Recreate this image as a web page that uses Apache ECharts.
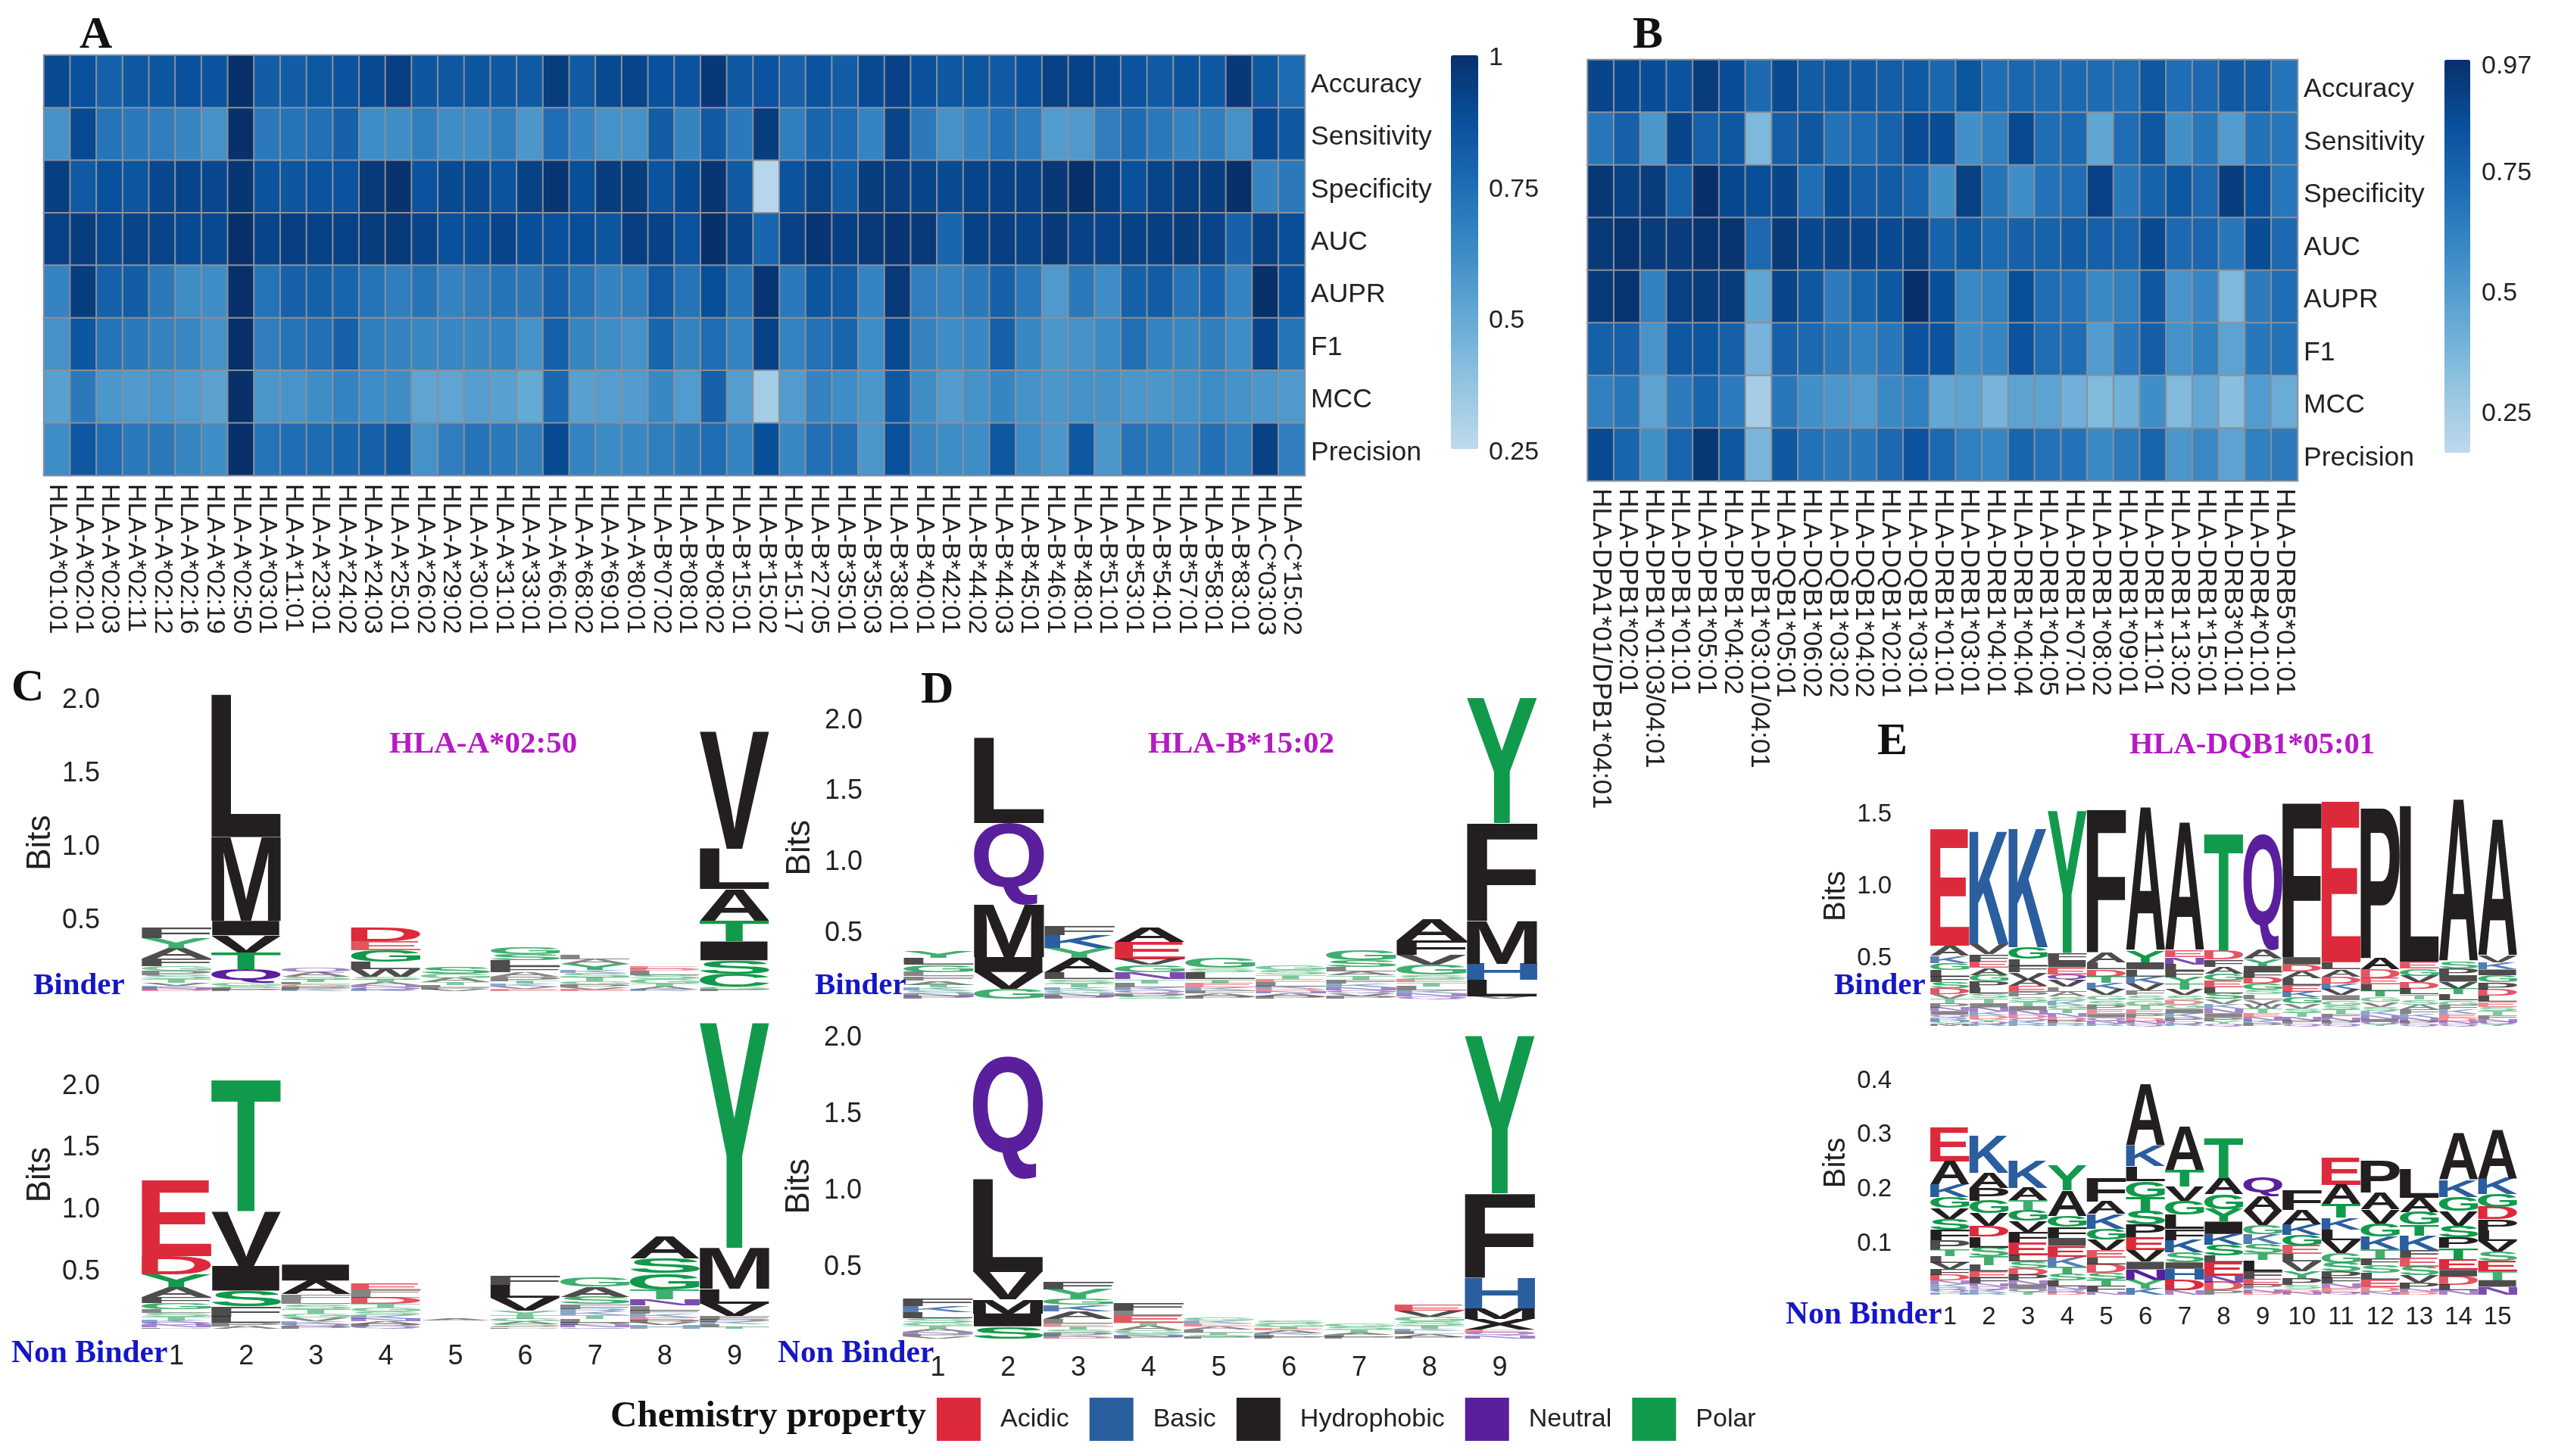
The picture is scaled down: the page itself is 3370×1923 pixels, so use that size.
<!DOCTYPE html>
<html><head><meta charset="utf-8">
<script src="https://cdn.jsdelivr.net/npm/echarts@6/dist/echarts.min.js"></script>
<style>html,body{margin:0;padding:0;background:#fff}#c{width:3370px;height:1923px}</style>
</head><body><div id="c"></div>
<script>
const metrics=["Accuracy","Sensitivity","Specificity","AUC","AUPR","F1","MCC","Precision"];
const allelesA=["HLA-A*01:01","HLA-A*02:01","HLA-A*02:03","HLA-A*02:11","HLA-A*02:12","HLA-A*02:16","HLA-A*02:19","HLA-A*02:50","HLA-A*03:01","HLA-A*11:01","HLA-A*23:01","HLA-A*24:02","HLA-A*24:03","HLA-A*25:01","HLA-A*26:02","HLA-A*29:02","HLA-A*30:01","HLA-A*31:01","HLA-A*33:01","HLA-A*66:01","HLA-A*68:02","HLA-A*69:01","HLA-A*80:01","HLA-B*07:02","HLA-B*08:01","HLA-B*08:02","HLA-B*15:01","HLA-B*15:02","HLA-B*15:17","HLA-B*27:05","HLA-B*35:01","HLA-B*35:03","HLA-B*38:01","HLA-B*40:01","HLA-B*42:01","HLA-B*44:02","HLA-B*44:03","HLA-B*45:01","HLA-B*46:01","HLA-B*48:01","HLA-B*51:01","HLA-B*53:01","HLA-B*54:01","HLA-B*57:01","HLA-B*58:01","HLA-B*83:01","HLA-C*03:03","HLA-C*15:02"];
const allelesB=["HLA-DPA1*01/DPB1*04:01","HLA-DPB1*02:01","HLA-DPB1*01:03/04:01","HLA-DPB1*01:01","HLA-DPB1*05:01","HLA-DPB1*04:02","HLA-DPB1*03:01/04:01","HLA-DQB1*05:01","HLA-DQB1*06:02","HLA-DQB1*03:02","HLA-DQB1*04:02","HLA-DQB1*02:01","HLA-DQB1*03:01","HLA-DRB1*01:01","HLA-DRB1*03:01","HLA-DRB1*04:01","HLA-DRB1*04:04","HLA-DRB1*04:05","HLA-DRB1*07:01","HLA-DRB1*08:02","HLA-DRB1*09:01","HLA-DRB1*11:01","HLA-DRB1*13:02","HLA-DRB1*15:01","HLA-DRB3*01:01","HLA-DRB4*01:01","HLA-DRB5*01:01"];

const aAccuracy=[.9,.87,.8,.84,.85,.87,.86,1,.82,.82,.84,.86,.9,.94,.85,.84,.85,.84,.83,.95,.83,.9,.92,.87,.86,.97,.84,.86,.8,.86,.82,.9,.93,.87,.84,.85,.83,.87,.93,.93,.9,.86,.83,.86,.84,.97,.84,.76];
const aSensitivity=[.6,.9,.72,.7,.68,.65,.6,1,.7,.72,.74,.8,.62,.62,.68,.62,.62,.68,.58,.75,.66,.6,.6,.82,.66,.83,.7,.95,.68,.78,.76,.66,.92,.7,.6,.66,.73,.69,.56,.57,.68,.76,.7,.66,.68,.6,.9,.84];
const aSpecificity=[.94,.83,.87,.85,.91,.92,.91,.98,.86,.85,.86,.86,.96,.99,.86,.9,.9,.86,.93,.98,.88,.95,.95,.86,.9,.98,.83,.27,.86,.92,.82,.95,.94,.92,.9,.92,.93,.93,.97,1,.94,.87,.92,.94,.95,1,.66,.7];
const aAUC=[.93,.95,.9,.92,.92,.9,.9,1,.92,.94,.93,.93,.95,.96,.92,.87,.88,.92,.88,.87,.88,.85,.94,.93,.86,1,.92,.78,.93,.98,.94,.96,.98,.96,.78,.93,.94,.92,.96,.93,.92,.93,.94,.95,.92,.8,.93,.88];
const aAUPR=[.66,.95,.8,.82,.7,.62,.62,1,.72,.8,.8,.78,.72,.68,.72,.66,.68,.72,.7,.8,.72,.66,.68,.83,.72,.88,.72,.98,.7,.85,.82,.66,.96,.68,.66,.7,.8,.7,.57,.7,.62,.8,.82,.72,.78,.66,1,.88];
const aF1=[.6,.85,.72,.7,.66,.64,.6,1,.68,.72,.74,.8,.68,.66,.64,.64,.64,.66,.6,.8,.65,.62,.6,.78,.66,.75,.66,.93,.66,.73,.78,.62,.9,.66,.62,.64,.8,.64,.58,.6,.63,.74,.66,.64,.68,.62,.92,.72];
const aMCC=[.54,.7,.58,.57,.58,.56,.53,1,.58,.59,.62,.66,.62,.62,.52,.52,.55,.54,.5,.77,.54,.55,.56,.64,.56,.8,.55,.33,.56,.66,.62,.58,.84,.62,.56,.6,.65,.6,.58,.6,.6,.58,.58,.6,.62,.6,.58,.57];
const aPrecision=[.62,.84,.75,.7,.7,.65,.62,1,.72,.75,.76,.78,.8,.84,.6,.68,.72,.7,.68,.9,.66,.63,.64,.68,.7,.75,.66,.88,.64,.74,.74,.58,.87,.64,.62,.62,.84,.62,.58,.84,.58,.72,.7,.66,.74,.68,.93,.68];

const bAccuracy=[.88,.87,.85,.82,.92,.85,.72,.86,.78,.79,.79,.77,.79,.73,.81,.7,.73,.71,.72,.71,.7,.8,.7,.72,.79,.78,.67];
const bSensitivity=[.66,.76,.52,.88,.76,.8,.36,.77,.8,.68,.71,.75,.85,.85,.55,.62,.86,.7,.72,.45,.7,.8,.55,.66,.5,.68,.66];
const bSpecificity=[.94,.9,.92,.76,.97,.87,.84,.88,.7,.85,.77,.78,.74,.55,.9,.67,.56,.68,.7,.9,.66,.75,.8,.72,.91,.83,.66];
const bAUC=[.93,.95,.92,.92,.95,.95,.72,.93,.87,.88,.88,.86,.9,.75,.8,.72,.76,.75,.78,.76,.74,.86,.72,.73,.66,.85,.72];
const bAUPR=[.93,.95,.62,.9,.92,.92,.45,.88,.8,.64,.74,.8,.97,.84,.58,.62,.84,.7,.68,.58,.62,.8,.53,.6,.36,.64,.7];
const bF1=[.76,.76,.53,.8,.81,.76,.38,.76,.72,.66,.62,.66,.82,.82,.56,.6,.82,.7,.7,.5,.66,.77,.54,.62,.46,.66,.68];
const bMCC=[.62,.66,.46,.64,.74,.64,.24,.66,.55,.52,.5,.58,.62,.44,.46,.38,.46,.46,.4,.35,.4,.56,.35,.44,.33,.5,.42];
const bPrecision=[.86,.74,.55,.74,.94,.8,.37,.8,.68,.65,.66,.72,.82,.72,.62,.6,.74,.68,.68,.58,.64,.74,.52,.58,.46,.62,.64];

const colorbarTicksA=[.25,.5,.75,1];
const colorbarTicksB=[.25,.5,.75,.97];
const blues=["#bfd9ed","#93c4e0","#65a9d5","#3d8cc6","#1f6db4","#08509b","#08306b"];

const positions9=["1","2","3","4","5","6","7","8","9"];
const positions15=["1","2","3","4","5","6","7","8","9","10","11","12","13","14","15"];
const ticksBits=[.5,1,1.5,2];
const ticksE1=[.5,1,1.5];
const ticksE2=[.1,.2,.3,.4];

// Each string: one logo column, letters listed top to bottom as letter:bits ("_" leaves a gap)
const logoCBinder=[
"F:.07 Y:.07 A:.07 F:.05 G:.03 P:.03 S:.03 T:.025 V:.02 K:.015 N:.01 D:.01",
"L:.97 M:.57 I:.1 V:.12 T:.11 Q:.095 G:.02 S:.015 L:.01 P:.01",
"Q:.03 A:.03 S:.02 T:.02 L:.015 G:.015 E:.01 P:.01 K:.01",
"D:.09 E:.06 G:.08 L:.05 W:.05 S:.02 T:.02 A:.02 N:.015 Q:.015 K:.01",
"S:.05 G:.03 A:.03 T:.02 L:.015 P:.015 V:.01",
"G:.05 S:.04 L:.04 F:.04 A:.03 P:.03 T:.02 K:.02 V:.015 E:.015",
"L:.03 A:.03 Y:.04 K:.02 S:.03 T:.03 G:.02 P:.02 V:.015 E:.01",
"E:.02 D:.01 L:.03 S:.03 G:.03 T:.02 A:.02 K:.01",
"V:.8 L:.275 A:.215 T:.14 I:.13 S:.09 C:.09 G:.02 P:.01"];
const logoCNonBinder=[
"E:.61 D:.15 Y:.1 A:.08 F:.05 G:.05 L:.03 S:.03 T:.03 K:.02 Q:.02 N:.02 P:.01",
"T:1.07 V:.44 I:.2 S:.13 F:.08 L:.05 P:.03 A:.02",
"I:.13 A:.11 F:.04 L:.04 S:.04 T:.04 G:.03 V:.03 K:.02 Q:.02 P:.02",
"E:.05 F:.03 L:.03 D:.05 T:.03 G:.03 S:.03 K:.03 N:.02 A:.02 P:.02 Q:.02",
"A:.012 _:.07",
"F:.08 L:.1 V:.1 Y:.04 T:.03 G:.02 A:.02 S:.02 E:.01 P:.01",
"G:.07 A:.08 S:.06 F:.04 R:.02 K:.03 T:.03 L:.03 P:.02 N:.02 Q:.01",
"A:.18 S:.12 G:.13 T:.08 N:.05 L:.04 F:.03 K:.03 E:.02 P:.02 V:.02 H:.03",
"Y:1.82 M:.33 L:.12 V:.1 F:.03 P:.02 K:.02 L:.02 T:.015"];
const logoDBinder=[
"Y:.05 L:.05 G:.05 L:.03 F:.03 A:.03 T:.02 K:.02 S:.02 N:.02 P:.02",
"L:.6 Q:.575 M:.37 I:.107 V:.12 G:.07",
"F:.06 K:.09 Y:.07 A:.1 L:.05 S:.03 T:.03 K:.02 G:.02 N:.02 P:.02",
"A:.1 E:.12 V:.04 G:.05 N:.05 T:.03 L:.03 K:.02 Q:.02 P:.02 S:.02",
"G:.07 S:.03 L:.05 T:.03 E:.03 K:.02 F:.02 A:.02 P:.02",
"G:.035 S:.035 T:.03 E:.02 L:.03 K:.02 D:.015 N:.015 A:.02 P:.02",
"G:.07 S:.05 L:.03 A:.03 T:.03 F:.025 K:.03 N:.02 Q:.02 V:.02 P:.02",
"A:.15 F:.1 V:.07 G:.07 S:.03 E:.02 T:.03 L:.03 K:.02 N:.02 Q:.02",
"Y:.88 F:.69 M:.3 H:.115 L:.115 V:.02"];
const logoDNonBinder=[
"F:.05 K:.04 L:.04 S:.03 G:.02 T:.02 A:.02 N:.015 P:.015 V:.015",
"Q:.8 L:.61 V:.18 M:.09 I:.085 S:.08",
"F:.05 Y:.06 G:.04 K:.04 A:.05 L:.03 E:.02 T:.02 S:.02 P:.02 K:.01 D:.01",
"F:.05 L:.03 E:.05 T:.02 A:.03 G:.02 S:.015 N:.01 P:.01",
"G:.02 K:.02 E:.02 A:.02 L:.02 T:.015 S:.015 P:.01",
"S:.02 G:.02 T:.015 E:.01 A:.02 K:.01 L:.015 P:.01",
"G:.02 S:.02 T:.02 A:.015 L:.015 P:.01",
"E:.04 V:.04 G:.03 S:.03 T:.02 K:.015 L:.02 A:.02 P:.01",
"Y:1.03 F:.55 H:.2 M:.07 X:.07 E:.02 Q:.02 N:.02"];
const logoEBinder=[
"E:.81 A:.07 K:.05 G:.05 L:.045 F:.04 S:.04 D:.04 V:.035 T:.03 P:.03 N:.025 I:.025 Q:.02 R:.02 H:.015 Y:.015 M:.01",
"K:.79 V:.07 F:.05 E:.045 A:.05 G:.045 P:.04 L:.04 S:.035 T:.035 I:.03 N:.03 K:.025 D:.025 Y:.02 Q:.015 R:.015",
"K:.83 G:.08 L:.05 F:.045 V:.05 A:.045 E:.04 P:.035 S:.035 T:.03 I:.03 N:.03 D:.025 Q:.02 K:.02 R:.015",
"Y:.99 F:.05 I:.05 E:.05 Q:.04 V:.045 L:.035 A:.035 S:.03 K:.03 G:.03 T:.025 N:.025 D:.025 P:.02 R:.02",
"F:1 A:.07 L:.05 D:.05 T:.045 K:.045 V:.04 G:.035 S:.035 P:.03 E:.03 I:.025 Q:.025 N:.02 R:.015",
"A:1 Y:.08 I:.05 L:.05 K:.05 V:.045 F:.035 S:.035 G:.035 T:.03 E:.03 P:.025 D:.025 N:.02 Q:.015",
"A:.89 E:.05 N:.05 L:.045 F:.045 Y:.045 T:.04 V:.04 S:.035 D:.03 G:.03 I:.03 K:.03 P:.025 Q:.02 R:.015",
"T:.815 D:.06 F:.05 A:.05 G:.05 E:.045 L:.04 S:.04 V:.035 K:.035 N:.03 I:.03 P:.025 Y:.02 Q:.015",
"Q:.81 A:.06 Y:.05 I:.04 F:.04 D:.045 G:.04 S:.035 L:.035 V:.035 W:.03 T:.03 E:.025 N:.025 K:.02 P:.02",
"F:1.08 I:.05 D:.05 A:.045 L:.05 E:.045 K:.04 G:.04 V:.035 S:.03 T:.03 N:.025 P:.025 Q:.015",
"E:1.12 L:.05 A:.05 D:.05 K:.04 V:.04 I:.035 G:.035 S:.03 T:.03 F:.025 N:.025 P:.02 Q:.015",
"P:1.05 A:.08 D:.06 E:.045 L:.045 T:.04 G:.035 V:.035 S:.03 K:.03 N:.025 I:.02 Q:.015 Y:.015",
"L:1.085 E:.05 G:.05 V:.045 D:.045 L:.04 T:.035 S:.035 A:.035 F:.03 K:.025 N:.025 P:.02 Q:.015",
"A:1.13 S:.05 P:.045 I:.045 V:.05 T:.04 L:.04 G:.035 F:.03 K:.03 E:.025 D:.025 N:.02 Q:.015",
"A:.95 V:.045 K:.05 I:.04 G:.05 P:.05 D:.045 L:.04 E:.035 S:.03 T:.03 F:.025 N:.02 Q:.015 Y:.015"];
const logoENonBinder=[
"E:.063 A:.043 K:.023 G:.02 V:.02 S:.02 F:.02 P:.017 T:.012 L:.012 V:.012 F:.01 D:.01 N:.007 K:.006 R:.005 Q:.005 H:.004",
"K:.068 A:.029 P:.023 G:.023 V:.023 D:.02 L:.02 S:.016 T:.016 L:.012 E:.012 F:.01 N:.006 Q:.006 K:.005 R:.004",
"K:.05 A:.023 T:.018 G:.02 V:.02 F:.02 E:.023 L:.012 S:.012 D:.012 P:.01 N:.008 I:.008 Q:.006 T:.005",
"Y:.047 A:.047 G:.02 F:.02 I:.015 E:.02 K:.018 T:.014 S:.012 L:.01 N:.006 R:.005 D:.005",
"F:.043 A:.023 K:.027 G:.02 V:.02 E:.014 L:.012 D:.016 S:.012 T:.012 F:.01 N:.006",
"A:.113 K:.037 L:.027 G:.03 T:.026 S:.025 P:.023 E:.023 V:.022 I:.014 N:.02 Y:.015 K:.012",
"A:.08 T:.03 V:.026 G:.025 L:.027 F:.02 K:.023 S:.018 I:.012 H:.02 D:.02 N:.008",
"T:.074 A:.03 G:.027 Y:.023 I:.023 K:.02 S:.02 L:.012 E:.025 N:.012 D:.015 P:.008",
"Q:.034 A:.027 V:.027 G:.017 K:.018 S:.017 T:.012 L:.02 F:.015 E:.01 P:.008 N:.006 D:.005",
"F:.035 A:.027 K:.02 G:.02 E:.015 L:.014 V:.018 Y:.012 P:.012 S:.008 D:.006 N:.005",
"E:.05 A:.035 T:.025 K:.022 L:.02 V:.023 G:.018 S:.016 P:.012 F:.01 N:.008 E:.008 Q:.005",
"P:.059 A:.031 V:.027 G:.023 K:.023 T:.018 F:.012 S:.014 L:.012 E:.014 D:.008 N:.006",
"L:.054 A:.027 G:.023 T:.02 K:.027 F:.014 E:.016 S:.016 V:.014 P:.01 N:.006 D:.006",
"A:.087 K:.031 G:.026 V:.027 S:.021 P:.02 T:.02 E:.02 I:.012 D:.016 L:.01 N:.008",
"A:.09 K:.03 G:.023 D:.023 P:.02 L:.02 V:.02 S:.016 E:.02 T:.016 I:.012 N:.015"];

const classes={Acidic:"#dd2a3b",Basic:"#2a5e9f",Hydrophobic:"#231f20",Neutral:"#5a1f9c",Polar:"#119a4b"};
const classOf={D:"Acidic",E:"Acidic",K:"Basic",R:"Basic",H:"Basic",A:"Hydrophobic",V:"Hydrophobic",L:"Hydrophobic",I:"Hydrophobic",P:"Hydrophobic",W:"Hydrophobic",F:"Hydrophobic",M:"Hydrophobic",X:"Hydrophobic",Q:"Neutral",N:"Neutral",G:"Polar",S:"Polar",T:"Polar",C:"Polar",Y:"Polar"};

const SANS='"Liberation Sans"',SERIF='"Liberation Serif"',INK='#222';
const GLYPH_FONT='bold 200px "Liberation Sans"';
const mctx=document.createElement('canvas').getContext('2d');
const glyphCache={};
function glyph(ch){
  if(!glyphCache[ch]){
    mctx.font=GLYPH_FONT;mctx.textBaseline='middle';mctx.textAlign='left';
    const m=mctx.measureText(ch);
    glyphCache[ch]={l:m.actualBoundingBoxLeft,r:m.actualBoundingBoxRight,a:m.actualBoundingBoxAscent,d:m.actualBoundingBoxDescent};
  }
  return glyphCache[ch];
}

const grids=[],xAxes=[],yAxes=[],series=[];
function addHeat(cols,rows,box){
  const gi=grids.length;
  grids.push({left:box.left,top:box.top,width:box.width,height:box.height});
  xAxes.push({type:'category',gridIndex:gi,data:cols,axisLine:{show:false},axisTick:{show:false},splitLine:{show:false},
    axisLabel:{rotate:-90,interval:0,margin:box.margin,fontSize:box.font,fontFamily:SANS,color:INK}});
  yAxes.push({type:'category',gridIndex:gi,data:metrics,inverse:true,position:'right',axisLine:{show:false},axisTick:{show:false},splitLine:{show:false},
    axisLabel:{margin:8,formatter:v=>`{t|${v}}`,rich:{t:{fontSize:35.5,fontFamily:SANS,color:INK,padding:[9,0,0,0],verticalAlign:'bottom'}}}});
  const data=[];
  rows.forEach((r,j)=>r.forEach((v,i)=>data.push([i,j,v])));
  series.push({type:'heatmap',xAxisIndex:gi,yAxisIndex:gi,data,progressive:0,
    itemStyle:{borderColor:'#8a909b',borderWidth:2}});
  return series.length-1;
}
function addColorbarAxis(box,ticks,margin){
  const gi=grids.length;
  grids.push({left:box.left,top:box.top,width:box.width,height:box.height});
  xAxes.push({type:'value',gridIndex:gi,show:false,min:0,max:1});
  yAxes.push({type:'value',gridIndex:gi,position:'right',min:box.min,max:box.max,axisLine:{show:false},axisTick:{show:false},splitLine:{show:false},
    axisLabel:{customValues:ticks,margin,formatter:v=>`{t|${v}}`,rich:{t:{fontSize:34,fontFamily:SANS,color:INK,padding:[5,0,0,0],verticalAlign:'bottom'}}}});
}
function addLogo(stacks,box){
  const gi=grids.length;
  grids.push({left:box.left,width:box.width,top:box.y0-box.max*box.perBit,height:box.max*box.perBit});
  xAxes.push({type:'category',gridIndex:gi,data:stacks.length===9?positions9:positions15,axisLine:{show:false},axisTick:{show:false},splitLine:{show:false},
    axisLabel:{show:!!box.xLabels,interval:0,margin:box.xMargin||10,fontSize:box.font,fontFamily:SANS,color:INK}});
  yAxes.push({type:'value',gridIndex:gi,min:0,max:box.max,axisLine:{show:false},axisTick:{show:false},splitLine:{show:false},
    name:'Bits',nameLocation:'middle',nameRotate:90,nameGap:box.nameGap,nameTextStyle:{fontSize:box.nameFont,fontFamily:SANS,color:INK},
    axisLabel:{customValues:box.ticks,margin:box.margin,formatter:v=>`{t|${v.toFixed(1)}}`,rich:{t:{fontSize:box.font,fontFamily:SANS,color:INK,padding:[3,0,0,0],verticalAlign:'bottom'}}}});
  const byClass={};
  stacks.forEach((s,pos)=>{
    let y=box.base;
    s.split(' ').map(t=>t.split(':')).reverse().forEach(([ch,h])=>{
      const bits=parseFloat(h);
      if(ch!=='_'){
        const c=classOf[ch];
        (byClass[c]=byClass[c]||[]).push({pos,ch,y0:y,y1:y+bits});
      }
      y+=bits;
    });
  });
  Object.keys(classes).forEach(name=>{
    const items=byClass[name]||[];
    series.push({type:'custom',name,xAxisIndex:gi,yAxisIndex:gi,clip:false,silent:true,itemStyle:{color:classes[name]},
      data:items.map(it=>[it.pos,it.y0,it.y1]),encode:{x:0,y:[1,2]},
      renderItem(params,api){
        const it=items[params.dataIndex];
        const top=api.coord([it.pos,it.y1]),bot=api.coord([it.pos,it.y0]);
        const band=api.size([1,0])[0];
        const g=glyph(it.ch);
        const h=bot[1]-top[1];
        const sx=band/(g.l+g.r),sy=h/(g.a+g.d);
        return {type:'text',x:top[0]-band/2+g.l*sx,y:top[1]+g.a*sy,scaleX:sx,scaleY:sy,silent:true,
          style:{text:it.ch,font:GLYPH_FONT,fill:classes[name],opacity:h<7?.55:h<14?.8:1,align:'left',verticalAlign:'middle',textAlign:'left',textVerticalAlign:'middle'}};
      }});
  });
}

const sA=addHeat(allelesA,[aAccuracy,aSensitivity,aSpecificity,aAUC,aAUPR,aF1,aMCC,aPrecision],{left:58,top:73,width:1665,height:555,margin:11,font:34});
const sB=addHeat(allelesB,[bAccuracy,bSensitivity,bSpecificity,bAUC,bAUPR,bF1,bMCC,bPrecision],{left:2096.5,top:79,width:937.5,height:556,margin:10,font:35});
addColorbarAxis({left:1916,top:74,width:36,height:521,min:.25,max:1},colorbarTicksA,14);
addColorbarAxis({left:3228,top:79,width:34,height:519,min:.166,max:.98},colorbarTicksB,15);

addLogo(logoCBinder,{left:187,width:829,y0:1312,perBit:194,max:2.05,base:.015,ticks:ticksBits,margin:55,font:36,nameGap:111,nameFont:44});
addLogo(logoCNonBinder,{left:187,width:829,y0:1760,perBit:163.4,max:2.55,base:.03,ticks:ticksBits,margin:55,font:36,nameGap:111,nameFont:44,xLabels:true,xMargin:14});
addLogo(logoDBinder,{left:1193,width:837,y0:1325,perBit:187.4,max:2.19,base:.03,ticks:ticksBits,margin:54,font:36,nameGap:114,nameFont:44});
addLogo(logoDNonBinder,{left:1192,width:835,y0:1774,perBit:202,max:2.05,base:.03,ticks:ticksBits,margin:54,font:36,nameGap:114,nameFont:44,xLabels:true,xMargin:15});
addLogo(logoEBinder,{left:2549,width:775,y0:1359,perBit:189.6,max:1.85,base:.02,ticks:ticksE1,margin:51,font:33,nameGap:104,nameFont:40});
addLogo(logoENonBinder,{left:2549,width:775,y0:1713,perBit:717,max:.494,base:.004,ticks:ticksE2,margin:51,font:33,nameGap:104,nameFont:40,xLabels:true,xMargin:10});

function txt(text,x,y,font,fill){
  return {type:'text',x,y,silent:true,style:{text,fill,font:`bold ${font}px ${SERIF}`,textAlign:'left',textVerticalAlign:'middle'}};
}
const PINK='#b51ac4',BLUE='#1616c8';
const labels=[
  txt('A',105,47,60,'#111'),txt('B',2156,47,60,'#111'),txt('C',15,909,60,'#111'),txt('D',1216,912,60,'#111'),txt('E',2479,980,60,'#111'),
  txt('HLA-A*02:50',514,983,41,PINK),txt('HLA-B*15:02',1516,983,41,PINK),txt('HLA-DQB1*05:01',2812,985,40.5,PINK),
  txt('Binder',44,1302,41,BLUE),txt('Non Binder',15,1788,41.5,BLUE),
  txt('Binder',1076,1302,41,BLUE),txt('Non Binder',1027,1788,41.5,BLUE),
  txt('Binder',2422,1302,41,BLUE),txt('Non Binder',2358,1737,41.5,BLUE),
  txt('Chemistry property',806,1871,49,'#111')
];

const chart=echarts.init(document.getElementById('c'),null,{renderer:'canvas',width:3370,height:1923});
chart.setOption({
  animation:false,backgroundColor:'#fff',
  grid:grids,xAxis:xAxes,yAxis:yAxes,series,
  visualMap:[
    {type:'continuous',seriesIndex:sA,dimension:2,min:.25,max:1,inRange:{color:blues},left:1916,top:73,itemWidth:36,itemHeight:520,padding:0,calculable:false,realtime:false,text:null,showLabel:false,hoverLink:false},
    {type:'continuous',seriesIndex:sB,dimension:2,min:.166,max:.97,inRange:{color:blues},left:3228,top:79,itemWidth:34,itemHeight:519,padding:0,calculable:false,realtime:false,text:null,showLabel:false,hoverLink:false}
  ],
  legend:{left:1237,top:1846,orient:'horizontal',icon:'rect',itemWidth:58,itemHeight:57,itemGap:27,padding:0,selectedMode:false,
    data:Object.keys(classes),textStyle:{fontSize:34,fontFamily:SANS,color:INK,padding:[8,0,0,21]}},
  graphic:labels
});
</script></body></html>
